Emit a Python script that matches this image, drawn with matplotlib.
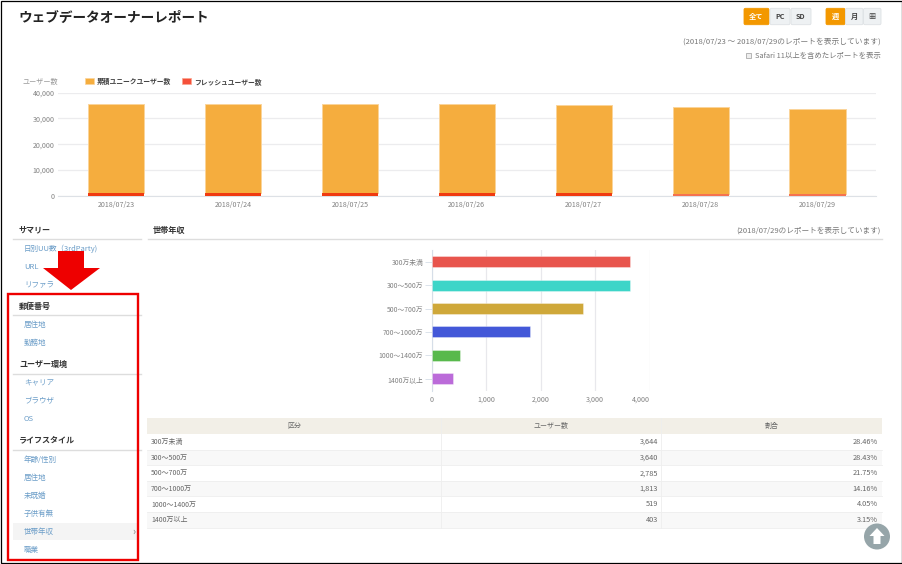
import matplotlib
matplotlib.use("Agg")
import matplotlib.pyplot as plt
from matplotlib.patches import Rectangle, FancyBboxPatch, Polygon, Circle

plt.rcParams['font.family'] = ['Noto Sans CJK JP', 'DejaVu Sans']

W, H = 902, 564

dates = ['2018/07/23', '2018/07/24', '2018/07/25', '2018/07/26', '2018/07/27', '2018/07/28', '2018/07/29']
fresh_users = [1150, 1150, 900, 1150, 900, 600, 600]
fresh_colors = ['#F03A10', '#F03A10', '#F03A10', '#F03A10', '#F03A10', '#F5724F', '#F5724F']
cumulative_users = [34350, 34450, 34700, 34270, 34300, 33850, 33100]

income_labels = ['300万未満', '300~500万', '500~700万', '700~1000万', '1000~1400万', '1400万以上']
income_display = ['300万未満', '300～500万', '500～700万', '700～1000万', '1000～1400万', '1400万以上']
income_users = [3644, 3640, 2785, 1813, 519, 403]
income_share = ['28.46%', '28.43%', '21.75%', '14.16%', '4.05%', '3.15%']
income_colors = ['#E8554D', '#3DD5C8', '#CFA83A', '#4358D8', '#58B94C', '#BB6BD9']

menu_summary = ['日別UU数（3rdParty)', 'URL', 'リファラ']
menu_zip = ['居住地', '勤務地']
menu_env = ['キャリア', 'ブラウザ', 'OS']
menu_life = ['年齢/性別', '居住地', '未既婚', '子供有無', '世帯年収', '職業']

fig = plt.figure(figsize=(W / 100, H / 100), dpi=100, facecolor='white')


def axes_px(x0, y0, x1, y1):
    return fig.add_axes([x0 / W, 1 - y1 / H, (x1 - x0) / W, (y1 - y0) / H])


page = fig.add_axes([0, 0, 1, 1], zorder=0)
page.set_xlim(0, W)
page.set_ylim(H, 0)
page.axis('off')
over = fig.add_axes([0, 0, 1, 1], zorder=5)
over.set_xlim(0, W)
over.set_ylim(H, 0)
over.axis('off')
over.patch.set_alpha(0)

GREY = '#808080'
LINK = '#6B9DC8'
DARK = '#333333'


def txt(x, y, s, size=5.5, color=GREY, ha='left', weight='normal', ax=page):
    ax.text(x, y - 0.7, s, fontsize=size, color=color, ha=ha, va='center_baseline', fontweight=weight)


# Header
txt(18.5, 17, 'ウェブデータオーナーレポート', size=9.8, color='#222222', weight='bold')
txt(881, 41, '(2018/07/23 ～ 2018/07/29のレポートを表示しています)', size=5.55, ha='right', color='#777777')
txt(881, 56, 'Safari 11以上を含めたレポートを表示', size=5.35, ha='right', color='#777777')
page.add_patch(Rectangle((745.5, 52.5), 5.5, 5.5, fc='#eeeeee', ec='#aaaaaa', lw=0.6))


def button(x0, x1, s, active):
    page.add_patch(FancyBboxPatch((x0 + 1, 9.3), x1 - x0 - 2, 14.4, boxstyle='round,pad=1,rounding_size=1.5',
                                  fc='#F39800' if active else '#EEF1F3',
                                  ec='#F39800' if active else '#DDE1E4', lw=0.6))
    page.text((x0 + x1) / 2, 16, s, fontsize=5.2, fontweight='bold', ha='center', va='center_baseline',
              color='white' if active else '#444444')


button(744, 769, '全て', True)
button(770, 790, 'PC', False)
button(791, 811, 'SD', False)
button(826, 845, '週', True)
button(845.5, 863, '月', False)
button(863.5, 881, '▦', False)

# Top stacked bars
ax1 = axes_px(57.5, 92.7, 876, 195.7)
xs = list(range(len(dates)))
ax1.bar(xs, cumulative_users, width=0.48, bottom=fresh_users, color='#F5AD3E',
        edgecolor='#FBD49A', linewidth=0.7, zorder=3)
ax1.bar(xs, fresh_users, width=0.48, color=fresh_colors, linewidth=0, zorder=4)
ax1.set_xlim(-0.5, 6.5)
ax1.set_ylim(0, 40000)
ax1.set_yticks([0, 10000, 20000, 30000, 40000], ['0', '10,000', '20,000', '30,000', '40,000'])
ax1.set_xticks(xs, dates)
ax1.grid(axis='y', color='#ECECEE', lw=0.9, zorder=0)
ax1.tick_params(axis='both', length=0, labelsize=5.1, labelcolor=GREY)
ax1.tick_params(axis='y', pad=2)
ax1.tick_params(axis='x', pad=3.5)
for sp in ax1.spines.values():
    sp.set_visible(False)
ax1.spines['bottom'].set_visible(True)
ax1.spines['bottom'].set_color('#DDE1E6')
ax1.set_axisbelow(True)
ax1.patch.set_alpha(0)

txt(22, 81.5, 'ユーザー数', size=5.1, color='#999999')
page.add_patch(Rectangle((85, 78), 8.5, 6, fc='#F5AD3E', ec='#FBD49A', lw=0.5))
txt(97, 81.5, '累積ユニークユーザー数', size=4.9, color='#444444', weight='bold')
page.add_patch(Rectangle((182, 78), 8.5, 6, fc='#F5503A', ec='#FBA58E', lw=0.5))
txt(194, 81.5, 'フレッシュユーザー数', size=4.9, color='#444444', weight='bold')

# Section heading of main column
txt(153, 230, '世帯年収', size=5.9, color=DARK, weight='bold')
txt(881, 230, '(2018/07/29のレポートを表示しています)', size=5.5, ha='right', color='#777777')
page.plot([148, 882], [238.5, 238.5], color='#DDDDDD', lw=1)

# Horizontal bars
ax2 = axes_px(431.5, 250, 649.5, 390.5)
ax2.barh(income_labels, income_users, height=0.47, color=income_colors, edgecolor='#FFFFFF66',
         linewidth=0.6, zorder=3)
ax2.set_ylim(5.5, -0.5)
ax2.set_xlim(0, 4000)
ax2.set_xticks([0, 1000, 2000, 3000, 4000], ['0', '1,000', '2,000', '3,000', '4,000'])
ax2.get_xticklabels()[-1].set_ha('right')
ax2.set_yticks(range(6), income_display)
ax2.grid(axis='x', color='#E8E8EC', lw=0.9, zorder=0)
ax2.tick_params(axis='x', length=0, labelsize=5.1, labelcolor=GREY, pad=4)
ax2.tick_params(axis='y', length=5, width=0.6, color='#D6DEE8', labelsize=4.9, labelcolor=GREY, pad=1)
for sp in ax2.spines.values():
    sp.set_visible(False)
ax2.spines['left'].set_visible(True)
ax2.spines['left'].set_color('#D6DEE8')
ax2.set_axisbelow(True)
ax2.patch.set_alpha(0)

# Table
T0, T1, T2, T3 = 147, 441, 661, 881.5
page.add_patch(Rectangle((T0, 418), T3 - T0, 16, fc='#F2EFE7', ec='none'))
row_h = 15.6
for i in range(6):
    y = 434 + i * row_h
    if i % 2 == 1:
        page.add_patch(Rectangle((T0, y), T3 - T0, row_h, fc='#F8F8F8', ec='none'))
    page.plot([T0, T3], [y + row_h, y + row_h], color='#EEEEEE', lw=0.6)
    txt(151, y + row_h / 2, income_display[i], size=5.0, color='#666666')
    txt(658, y + row_h / 2, f'{income_users[i]:,}', size=5.3, color='#666666', ha='right')
    txt(878, y + row_h / 2, income_share[i], size=5.3, color='#666666', ha='right')
for x in (T1, T2):
    page.plot([x, x], [418, 434 + 6 * row_h], color='#EEEEEE', lw=0.6)
txt((T0 + T1) / 2, 426, '区分', size=5.0, color='#666666', ha='center')
txt((T1 + T2) / 2, 426, 'ユーザー数', size=5.0, color='#666666', ha='center')
txt((T2 + T3) / 2, 426, '割合', size=5.0, color='#666666', ha='center')

# Side menu


def heading(y, s, rule_y):
    txt(19, y, s, size=5.8, color=DARK, weight='bold')
    page.plot([13, 141], [rule_y, rule_y], color='#DDDDDD', lw=1)


def links(items, ys):
    for s, y in zip(items, ys):
        txt(24, y, s, size=5.45, color=LINK)


heading(229.5, 'サマリー', 238.5)
links(menu_summary, [248.5, 266.5, 284.5])
heading(306, '郵便番号', 315)
links(menu_zip, [325, 343])
heading(364, 'ユーザー環境', 373.5)
links(menu_env, [383, 401, 419])
heading(440, 'ライフスタイル', 449.5)
page.add_patch(Rectangle((13, 523), 124, 17, fc='#F4F4F4', ec='none'))
links(menu_life, [459.5, 477.5, 495.5, 513.5, 531.5, 549.5])
txt(132, 531, '›', size=7, color='#777777')

# Red annotation
over.add_patch(Rectangle((8, 294), 130, 265.5, fc='none', ec='#EE0000', lw=1.7))
over.add_patch(Polygon([(58, 251), (84, 251), (84, 268), (100, 268), (71, 290), (43, 268), (58, 268)],
                       closed=True, fc='#EE0000', ec='none'))

# Scroll-to-top button
over.add_patch(Circle((877, 536.5), 13, fc='#96A5A9', ec='none'))
over.add_patch(Polygon([(877, 528), (884.5, 536), (880.5, 536), (880.5, 544), (873.5, 544),
                        (873.5, 536), (869.5, 536)], closed=True, fc='white', ec='none'))

# Screenshot border
over.add_patch(Rectangle((0.5, 0.5), W - 1, H - 2, fc='none', ec='black', lw=0.9))

fig.savefig('out.png', dpi=100)
